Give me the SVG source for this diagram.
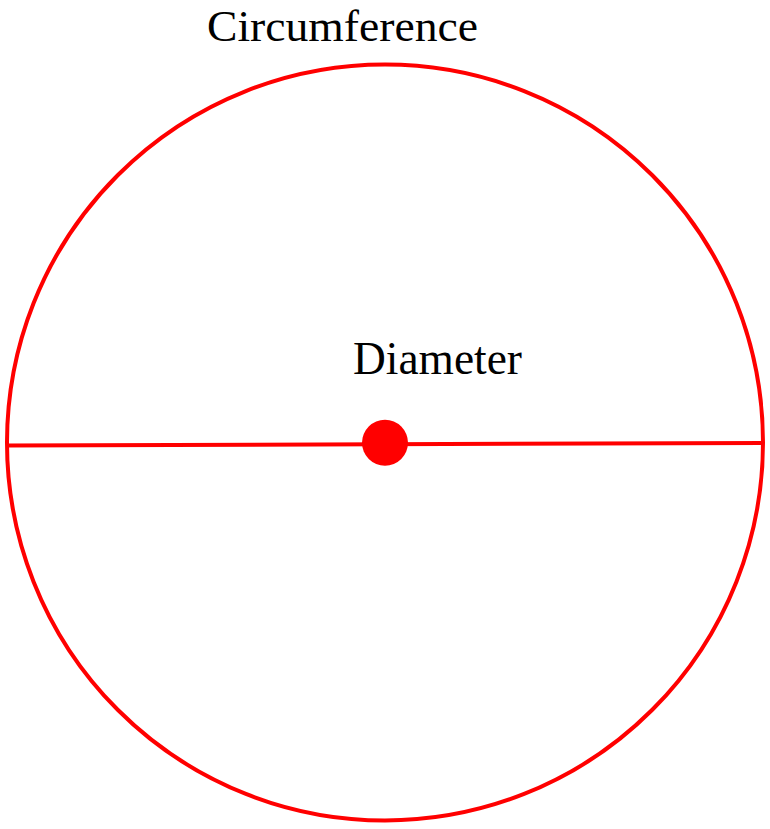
<svg xmlns="http://www.w3.org/2000/svg" width="770" height="829" viewBox="0 0 770 829">
<style>
.lbl{font-family:"Liberation Serif","Times New Roman",serif;font-size:46px;fill:#000}
.red{stroke:#ff0000;stroke-width:4;fill:none}
</style>
<rect width="770" height="829" fill="#fff"/>
<g id="circle"><circle class="red" cx="385" cy="442.5" r="378"/></g>
<g id="connectors"><line class="red" x1="7" y1="445.5" x2="763" y2="443"/></g>
<g id="center"><circle cx="385" cy="442.7" r="23" fill="#ff0000"/></g>
<g id="label-circumference"><text class="lbl" x="207" y="41" style="font-size:45px" textLength="271" lengthAdjust="spacingAndGlyphs">Circumference</text></g>
<g id="label-diameter"><text class="lbl" x="353" y="374" textLength="169" lengthAdjust="spacingAndGlyphs">Diameter</text></g>
</svg>
